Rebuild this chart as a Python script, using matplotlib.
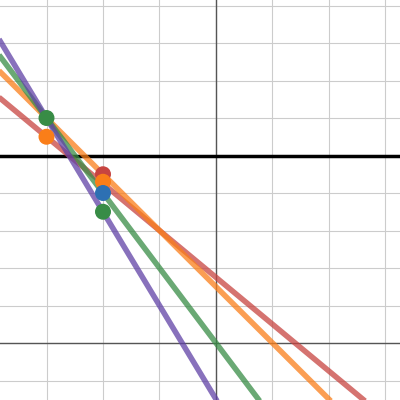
import matplotlib
matplotlib.use("Agg")
import matplotlib.pyplot as plt
import numpy as np

line_names = ["red", "orange", "green", "purple"]
line_slopes = [-1.25, -1.5, -2.0, -2.5]
line_intercepts = [1.75, 1.5, 0.0, -1.5]
line_colors = ["#c74440", "#fa7e19", "#388c46", "#6042a6"]

pt_x = [-3, -3, -2, -2, -2, -2]
pt_y = [6, 5.5, 4.5, 4.3, 4.0, 3.5]
pt_colors = ["#388c46", "#fa7e19", "#c74440", "#fa7e19", "#2d70b3", "#388c46"]
hline_y = 5

fig = plt.figure(figsize=(4, 4), dpi=100)
ax = fig.add_axes([0, 0, 1, 1])
xmin, xmax = -216/56.5, 184/56.5
ymin, ymax = -57/37.5, 343/37.5
ax.set_xlim(xmin, xmax); ax.set_ylim(ymin, ymax)
for gx in range(-4, 4):
    ax.axvline(gx, color="#cccccc", lw=0.8, zorder=0)
for gy in range(-2, 10):
    ax.axhline(gy, color="#cccccc", lw=0.8, zorder=0)
ax.axvline(0, color="#555555", lw=1, zorder=1)
ax.axhline(0, color="#555555", lw=1, zorder=1)
ax.axhline(hline_y, color="black", lw=2.5, zorder=2)

xs = np.array([xmin - 1, xmax + 1])
for m, b, c in zip(line_slopes, line_intercepts, line_colors):
    ax.plot(xs, m*xs + b, color=c, lw=4, alpha=0.75, zorder=3, solid_capstyle="butt")
ax.scatter(pt_x, pt_y, c=pt_colors, s=110, zorder=5)
ax.axis("off")
fig.savefig("out.png", dpi=100)
